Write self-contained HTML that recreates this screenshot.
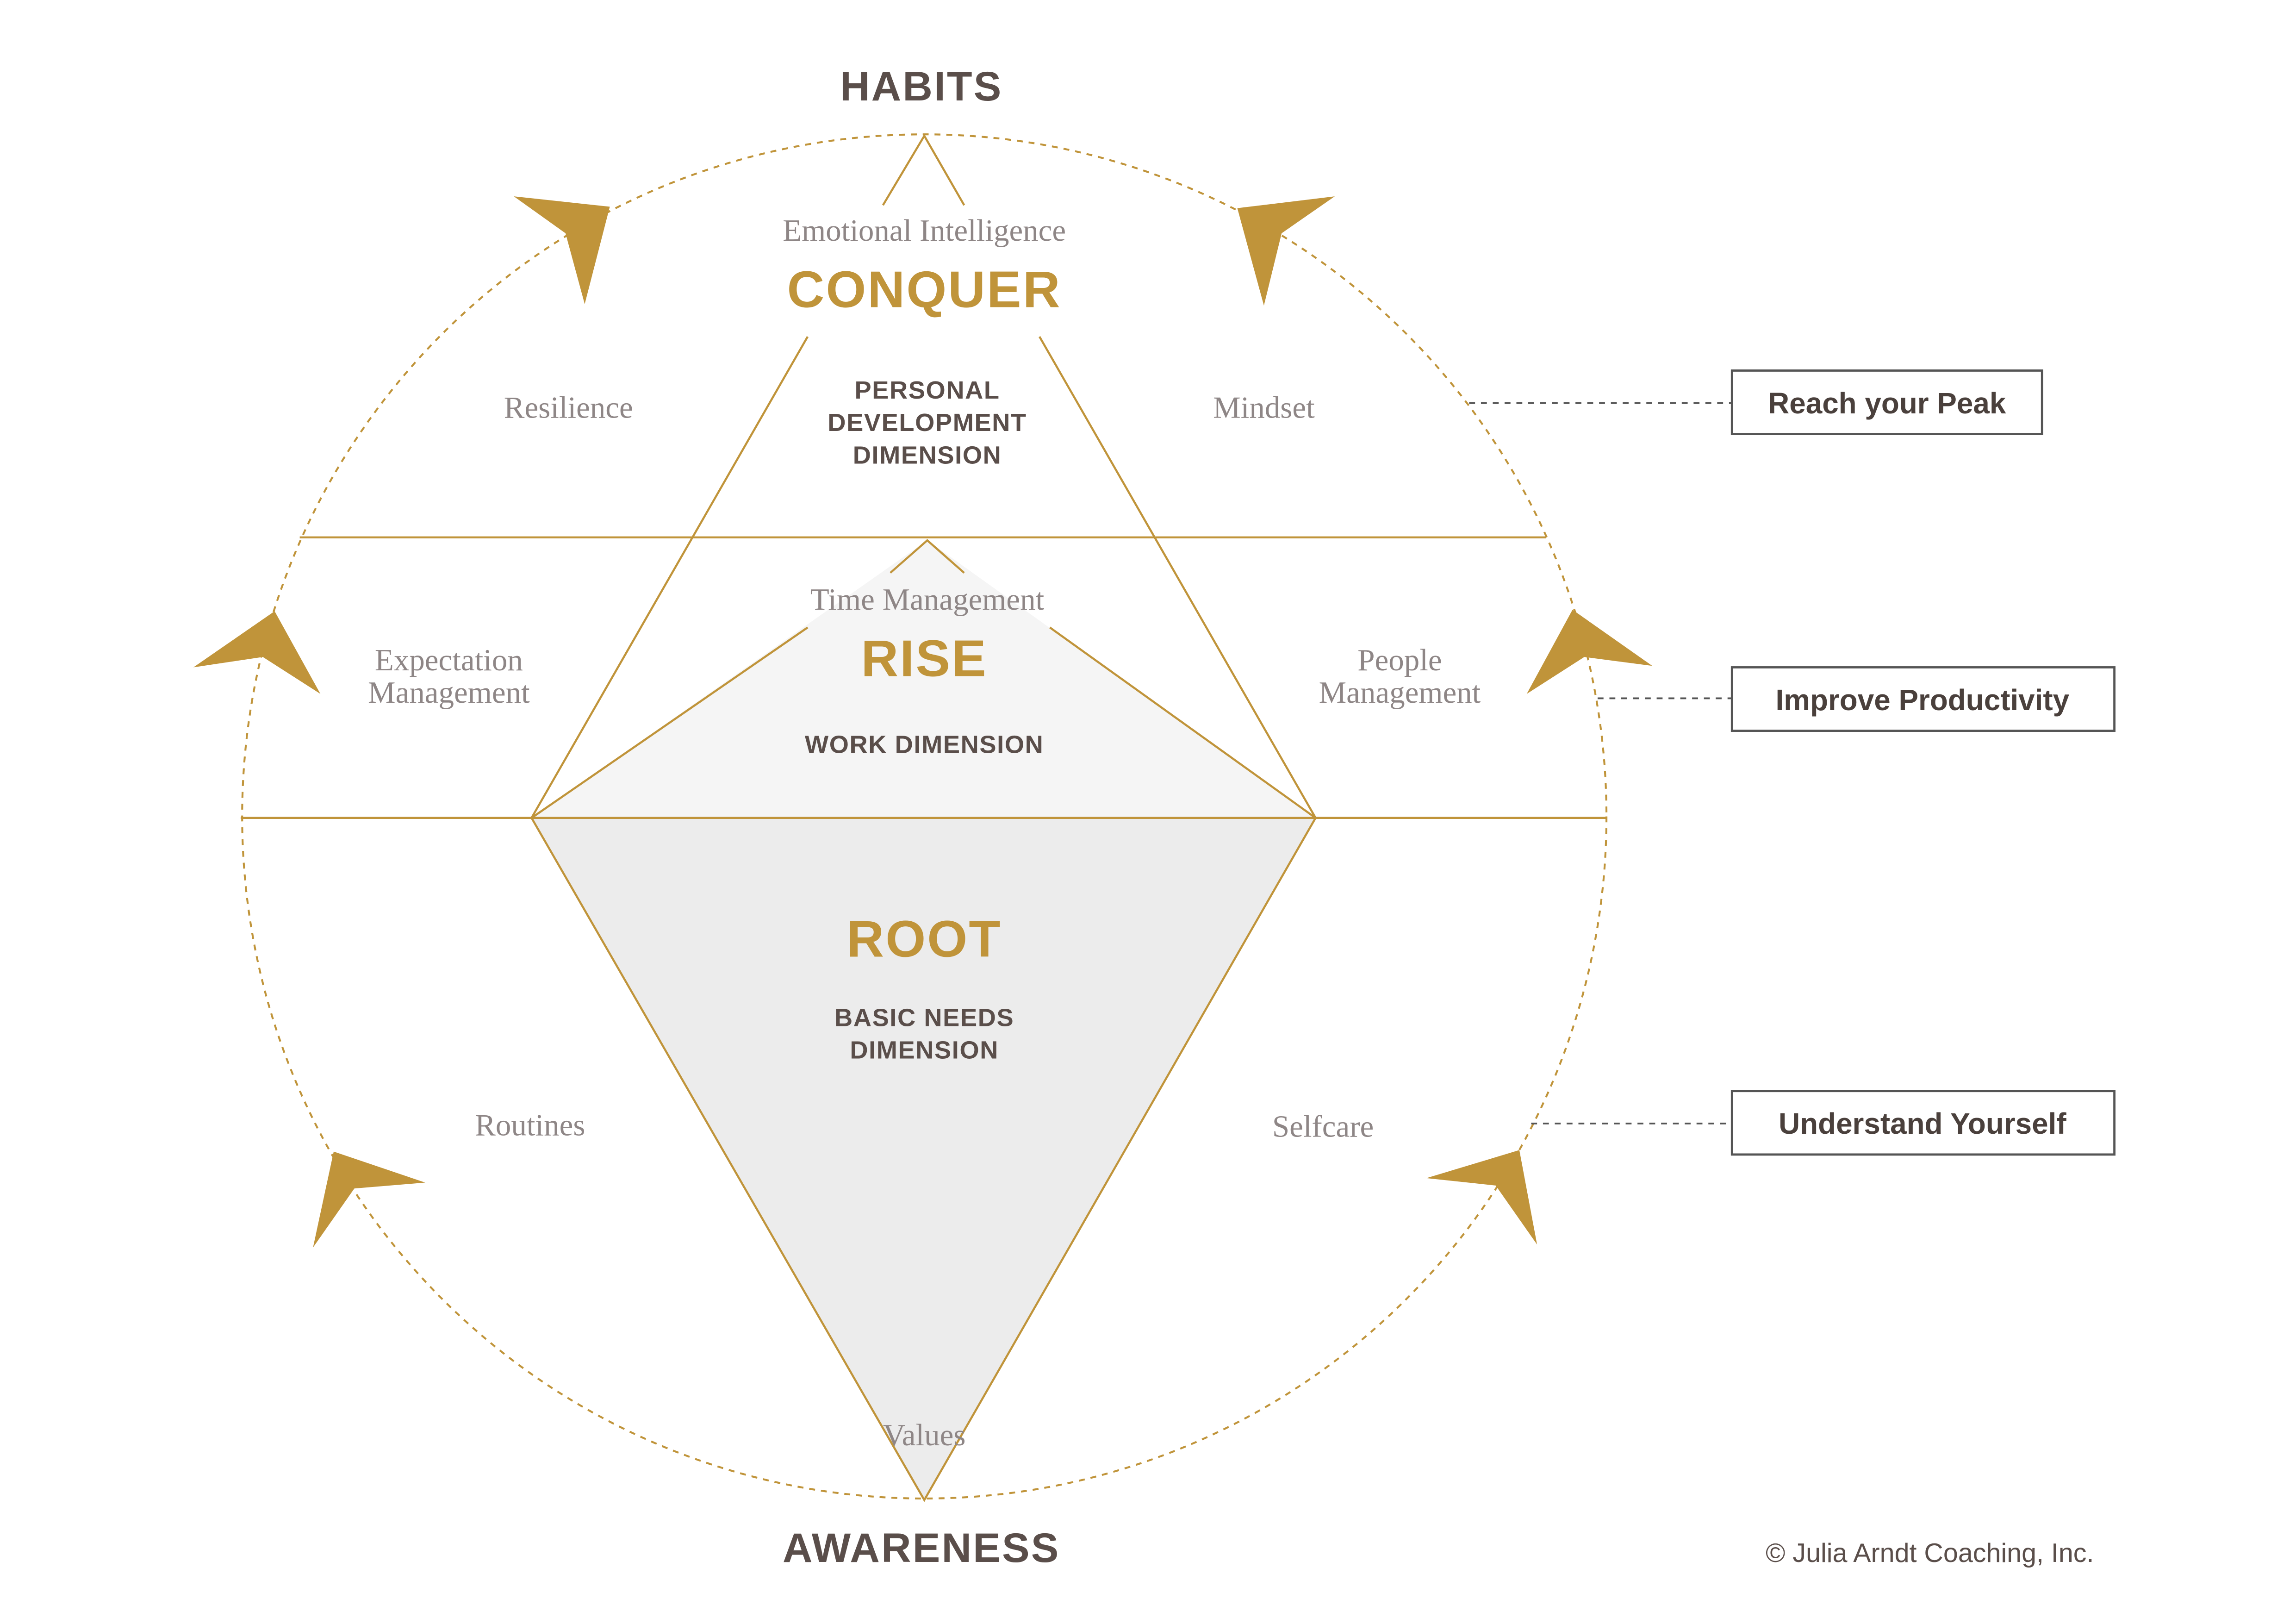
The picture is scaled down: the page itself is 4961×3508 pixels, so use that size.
<!DOCTYPE html>
<html><head><meta charset="utf-8"><style>
html,body{margin:0;padding:0;background:#fff;}
svg{display:block;}
.serif{font-family:"Liberation Serif",serif;fill:#8e8686;font-size:21px;text-anchor:middle;}
.gold{font-family:"Liberation Sans",sans-serif;fill:#c0943a;font-size:35px;font-weight:bold;text-anchor:middle;letter-spacing:1px;}
.dim{font-family:"Liberation Sans",sans-serif;fill:#5a4e4a;font-size:17px;font-weight:bold;text-anchor:middle;letter-spacing:0.5px;}
.big{font-family:"Liberation Sans",sans-serif;fill:#5a4e4a;font-size:28px;font-weight:bold;text-anchor:middle;letter-spacing:1px;}
.box{font-family:"Liberation Sans",sans-serif;fill:#4a403c;font-size:20px;font-weight:bold;text-anchor:middle;}
</style></head><body>
<svg width="4961" height="3508" viewBox="0 0 1555 1100" preserveAspectRatio="none" xmlns="http://www.w3.org/2000/svg">
<rect width="1555" height="1100" fill="#fff"/>
<polygon points="628,366 360,554 891,554" fill="#f5f5f5"/>
<polygon points="360,554 891,554 626,1016" fill="#ececec"/>
<circle cx="626" cy="553" r="462" fill="none" stroke="#c0943a" stroke-width="1.3" stroke-dasharray="4,4"/>
<g stroke="#c0943a" stroke-width="1.4" fill="none">
<line x1="203" y1="364" x2="1047" y2="364"/>
<line x1="163" y1="554" x2="1088" y2="554"/>
<polyline points="598,139 626,92 653,139"/>
<line x1="547" y1="228" x2="360" y2="554"/>
<line x1="704" y1="228" x2="891" y2="554"/>
<polyline points="603,388 628,366 653,388"/>
<line x1="547" y1="425" x2="360" y2="554"/>
<line x1="711" y1="425" x2="891" y2="554"/>
<polyline points="360,554 626,1016 891,554"/>
</g>
<g fill="#c0943a">
<polygon points="348,133 413,140 396,206 383,158"/>
<polygon points="904,133 838,141 856,207 868,158"/>
<polygon points="131,452 186,414 217,470 178,445"/>
<polygon points="1119,451 1065,413 1034,470 1073,445"/>
<polygon points="288,801 226,780 212,845 240,805"/>
<polygon points="966,798 1029,779 1041,843 1013,803"/>
</g>
<g stroke="#555" stroke-width="1.2" stroke-dasharray="4,4">
<line x1="995" y1="273" x2="1173" y2="273"/>
<line x1="1082" y1="473" x2="1173" y2="473"/>
<line x1="1037" y1="761" x2="1173" y2="761"/>
</g>
<g fill="#fff" stroke="#555" stroke-width="1.5">
<rect x="1173" y="251" width="210" height="43"/>
<rect x="1173" y="452" width="259" height="43"/>
<rect x="1173" y="739" width="259" height="43"/>
</g>
<text class="box" x="1278" y="280">Reach your Peak</text>
<text class="box" x="1302" y="481">Improve Productivity</text>
<text class="box" x="1302" y="768">Understand Yourself</text>
<text class="big" x="624" y="68">HABITS</text>
<text class="serif" x="626" y="163">Emotional Intelligence</text>
<text class="gold" x="626" y="208">CONQUER</text>
<text class="dim" x="628" y="270">PERSONAL</text>
<text class="dim" x="628" y="292">DEVELOPMENT</text>
<text class="dim" x="628" y="314">DIMENSION</text>
<text class="serif" x="385" y="283">Resilience</text>
<text class="serif" x="856" y="283">Mindset</text>
<text class="serif" x="628" y="413">Time Management</text>
<text class="gold" x="626" y="458">RISE</text>
<text class="dim" x="626" y="510">WORK DIMENSION</text>
<text class="serif" x="304" y="454">Expectation</text>
<text class="serif" x="304" y="476">Management</text>
<text class="serif" x="948" y="454">People</text>
<text class="serif" x="948" y="476">Management</text>
<text class="gold" x="626" y="648">ROOT</text>
<text class="dim" x="626" y="695">BASIC NEEDS</text>
<text class="dim" x="626" y="717">DIMENSION</text>
<text class="serif" x="359" y="769">Routines</text>
<text class="serif" x="896" y="770">Selfcare</text>
<text class="serif" x="626" y="979">Values</text>
<text class="big" x="624" y="1058">AWARENESS</text>
<text x="1307" y="1058" style="font-family:'Liberation Sans',sans-serif;fill:#5a4e4a;font-size:18px;text-anchor:middle;">© Julia Arndt Coaching, Inc.</text>
</svg>
</body></html>
